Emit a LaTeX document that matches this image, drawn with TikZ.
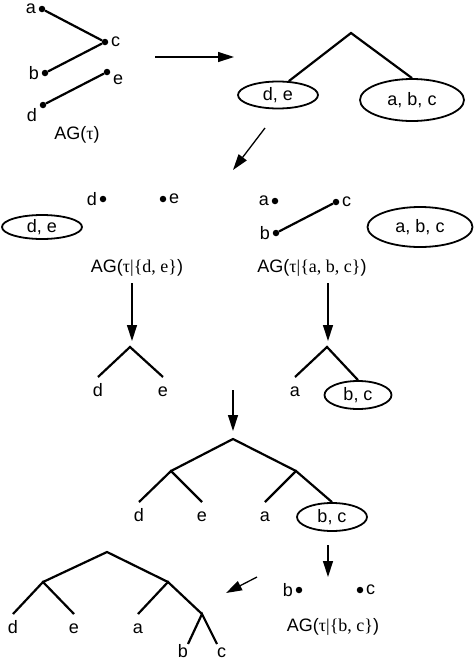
\documentclass[tikz,border=0pt]{standalone}
\usepackage{fontspec}
\setmainfont{Liberation Sans}
\newfontfamily\serf{Liberation Serif}
\usetikzlibrary{arrows.meta,shapes.geometric}
\begin{document}
\begin{tikzpicture}[x=1pt,y=-1pt,
        every node/.style={font=\fontsize{18}{20}\selectfont},
        every label/.style={inner sep=2.5pt},
        br/.style={line width=2.2pt},
        ar/.style={-{Triangle[length=16pt,width=10pt]},line width=1.3pt},
        dot/.style={circle,fill,inner sep=0pt,minimum size=6.5pt},
        set/.style={draw,ellipse,line width=1.8pt,inner sep=0pt},
        leaf/.style={anchor=north,inner sep=0pt,text height=19pt,text depth=0pt}]
    \useasboundingbox (0,0) rectangle (474,662);

    \node[dot,label={left:a}] (a1) at (42,9) {};
    \node[dot,label={right:c}] (c1) at (105,42) {};
    \node[dot,label={left:b}] (b1) at (45,73) {};
    \node[dot,label={-10:e}] (e1) at (107,72) {};
    \node[dot,label={190:d}] (d1) at (43,105) {};
    \draw[br] (a1) -- (c1) -- (b1);
    \draw[br] (d1) -- (e1);
    \node (ag) at (77,135) {AG({\serf τ})};

    \coordinate (p1) at (155,57);
    \coordinate (p2) at (234,57);
    \draw[ar] (p1) -- (p2);

    \coordinate (t0) at (351,33);
    \node[set,minimum width=80pt,minimum height=27pt] (tde) at (278,95) {d, e};
    \node[set,minimum width=104pt,minimum height=42pt] (tabc) at (412,100) {a, b, c};
    \draw[br] (tde.52) -- (t0) -- (tabc.north);

    \coordinate (p3) at (265,128);
    \coordinate (p4) at (233,170);
    \draw[ar] (p3) -- (p4);

    \node[dot,label={left:d}] (d2) at (103,199) {};
    \node[dot,label={right:e}] (e2) at (163,199) {};
    \node[set,minimum width=80pt,minimum height=24pt] (mde) at (42,227) {d, e};
    \node[dot,label={left:a}] (a2) at (275,201) {};
    \node[dot,label={right:c}] (c2) at (336,202) {};
    \node[dot,label={left:b}] (b2) at (276,233) {};
    \draw[br] (b2) -- (c2);
    \node[set,minimum width=105pt,minimum height=40pt] (mabc) at (420,227) {a, b, c};
    \node (agde) at (137,268) {AG({\serf τ|\{d, e\}})};
    \node (agabc) at (312,268) {AG({\serf τ|\{a, b, c\}})};

    \coordinate (p5) at (132,283);
    \coordinate (p6) at (132,341);
    \draw[ar] (p5) -- (p6);
    \coordinate (p7) at (328,283);
    \coordinate (p8) at (328,341);
    \draw[ar] (p7) -- (p8);

    \coordinate (l0) at (130,347);
    \node[leaf] (ld) at (98,377) {d};
    \node[leaf] (le) at (163,377) {e};
    \draw[br] (ld.north) -- (l0) -- (le.north);

    \coordinate (r0) at (327,347);
    \node[leaf] (ra) at (295,377) {a};
    \node[set,minimum width=67pt,minimum height=28pt] (rbc) at (358,395) {b, c};
    \draw[br] (ra.north) -- (r0) -- (rbc.north);

    \coordinate (p9) at (233,390);
    \coordinate (p10) at (233,431);
    \draw[ar] (p9) -- (p10);

    \coordinate (g0) at (233,439);
    \coordinate (g1) at (171,471);
    \coordinate (g2) at (296,471);
    \node[leaf] (gd) at (139,502) {d};
    \node[leaf] (ge) at (202,502) {e};
    \node[leaf] (ga) at (265,502) {a};
    \node[set,minimum width=70pt,minimum height=28pt] (gbc) at (332,517) {b, c};
    \draw[br] (g1) -- (g0) -- (g2);
    \draw[br] (gd.north) -- (g1) -- (ge.north);
    \draw[br] (ga.north) -- (g2) -- (gbc.north);

    \coordinate (p11) at (328,545);
    \coordinate (p12) at (328,577);
    \draw[ar] (p11) -- (p12);

    \node[dot,label={left:b}] (b3) at (299,590) {};
    \node[dot,label={right:c}] (c3) at (360,590) {};
    \node (agbc) at (333,627) {AG({\serf τ|\{b, c\}})};

    \coordinate (p13) at (257,577);
    \coordinate (p14) at (226,593);
    \draw[ar] (p13) -- (p14);

    \coordinate (f0) at (107,552);
    \coordinate (f1) at (43,582);
    \coordinate (f2) at (168,582);
    \coordinate (f3) at (202,614);
    \node[leaf] (fd) at (13,614) {d};
    \node[leaf] (fe) at (74,614) {e};
    \node[leaf] (fa) at (138,614) {a};
    \node[anchor=north east,inner sep=0pt,text height=13pt,text depth=0pt] (fb) at (188,644) {b};
    \node[anchor=north west,inner sep=0pt,text height=13pt,text depth=0pt] (fc) at (217,644) {c};
    \draw[br] (f1) -- (f0) -- (f2);
    \draw[br] (fd.north) -- (f1) -- (fe.north);
    \draw[br] (fa.north) -- (f2) -- (f3);
    \draw[br] (fb.north east) -- (f3) -- (fc.north west);
\end{tikzpicture}
\end{document}
